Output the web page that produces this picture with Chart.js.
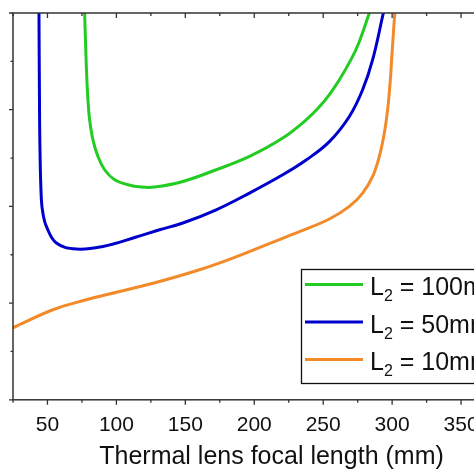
<!DOCTYPE html>
<html>
<head>
<meta charset="utf-8">
<script src="https://cdn.jsdelivr.net/npm/chart.js@4.4.1/dist/chart.umd.min.js"></script>
<style>
  html, body { margin: 0; padding: 0; background: #fff; overflow: hidden; }
  #wrap { width: 474px; height: 474px; overflow: hidden; }
</style>
</head>
<body>
<div id="wrap"><canvas id="lensChart" width="548" height="474"></canvas></div>
<script>
// Curve samples (x = thermal lens focal length in mm)
const greenX = [76.96, 78.19, 79.35, 80.58, 82.97, 86.59, 91.45, 98.69, 108.33, 118.04, 127.68, 148.19, 172.39, 196.52, 220.65, 237.61, 247.25, 254.49, 261.74, 270.22, 275.51, 283.47];
const greenY = [4.0, 3.448, 3.103, 2.896, 2.689, 2.517, 2.379, 2.276, 2.224, 2.200, 2.200, 2.258, 2.379, 2.517, 2.707, 2.895, 3.03, 3.157, 3.31, 3.52, 3.68, 4.0];

const blueX = [43.84, 44.2, 44.57, 45.58, 46.88, 49.2, 56.45, 70.94, 90.22, 114.42, 131.31, 148.19, 172.39, 196.52, 220.65, 237.61, 254.49, 268.98, 278.62, 285.87, 293.62];
const blueY = [4.0, 3.103, 2.586, 2.069, 1.914, 1.793, 1.621, 1.559, 1.586, 1.683, 1.758, 1.828, 1.965, 2.138, 2.327, 2.48, 2.67, 2.93, 3.207, 3.517, 4.0];

const orangeX = [25.0, 53.99, 78.19, 102.32, 131.31, 160.29, 184.42, 208.62, 232.76, 254.49, 268.98, 278.62, 285.87, 290.72, 294.35, 296.74, 298.7, 299.64, 300.72, 301.9];
const orangeY = [0.745, 0.931, 1.034, 1.12, 1.224, 1.345, 1.466, 1.603, 1.738, 1.87, 2.0, 2.138, 2.31, 2.517, 2.759, 3.0, 3.31, 3.517, 3.75, 4.0];

const seriesLabels = ["100mm", "50mm", "10mm"];
const seriesColors = ["#22cc22", "#0000cc", "#f28a2a"];
const xTickLabels = ["50", "100", "150", "200", "250", "300", "350"];

const FONT = "'Liberation Sans', Arial, sans-serif";

function toPoints(xs, ys) {
  return xs.map((v, i) => ({ x: v, y: ys[i] }));
}

// box around the plot plus the little tick marks (Origin style)
const framePlugin = {
  id: "frame",
  afterDraw(chart) {
    const { ctx, chartArea: a, scales: { x, y } } = chart;
    ctx.save();
    ctx.strokeStyle = "#333";
    ctx.lineWidth = 1.5;
    ctx.strokeRect(a.left, a.top, a.right - a.left, a.bottom - a.top);
    ctx.lineWidth = 1.3;
    ctx.beginPath();
    x.ticks.forEach(t => {
      const px = x.getPixelForValue(t.value);
      const len = t.value % 50 === 0 ? 5 : 3;
      ctx.moveTo(px, a.bottom);
      ctx.lineTo(px, a.bottom + len);
      ctx.moveTo(px, a.top);
      ctx.lineTo(px, a.top + len);
    });
    y.ticks.forEach(t => {
      const py = y.getPixelForValue(t.value);
      const len = Number.isInteger(t.value) ? 4 : 2.5;
      ctx.moveTo(a.left - len, py);
      ctx.lineTo(a.left, py);
    });
    ctx.stroke();
    ctx.restore();
  }
};

// legend box with subscript L2
const legendPlugin = {
  id: "boxLegend",
  afterDraw(chart) {
    const ctx = chart.ctx;
    const left = 301.5, top = 269.5, bottom = 383.5;
    const rowY = [284.5, 322, 359.5];
    ctx.save();
    ctx.font = "25px " + FONT;
    const lWidth = ctx.measureText("L").width;
    ctx.font = "16px " + FONT;
    const subWidth = ctx.measureText("2").width;
    ctx.font = "25px " + FONT;
    let maxW = 0;
    seriesLabels.forEach(s => {
      maxW = Math.max(maxW, ctx.measureText(" = " + s).width);
    });
    const textX = 370;
    const right = textX + lWidth + subWidth + maxW + 8;
    ctx.fillStyle = "#fff";
    ctx.fillRect(left, top, right - left, bottom - top);
    ctx.strokeStyle = "#111";
    ctx.lineWidth = 1.3;
    ctx.strokeRect(left, top, right - left, bottom - top);

    seriesLabels.forEach((s, i) => {
      const yy = rowY[i];
      ctx.strokeStyle = seriesColors[i];
      ctx.lineWidth = 3;
      ctx.beginPath();
      ctx.moveTo(305, yy);
      ctx.lineTo(363, yy);
      ctx.stroke();
      ctx.fillStyle = "#111";
      ctx.textBaseline = "alphabetic";
      ctx.font = "25px " + FONT;
      ctx.fillText("L", textX, yy + 10.5);
      ctx.font = "16px " + FONT;
      ctx.fillText("2", textX + lWidth, yy + 16.5);
      ctx.font = "25px " + FONT;
      ctx.fillText(" = " + s, textX + lWidth + subWidth, yy + 10.5);
    });
    ctx.restore();
  }
};

const ctx = document.getElementById("lensChart").getContext("2d");

new Chart(ctx, {
  type: "scatter",
  data: {
    datasets: [
      { label: "L2 = " + seriesLabels[0], data: toPoints(greenX, greenY), borderColor: seriesColors[0] },
      { label: "L2 = " + seriesLabels[1], data: toPoints(blueX, blueY), borderColor: seriesColors[1] },
      { label: "L2 = " + seriesLabels[2], data: toPoints(orangeX, orangeY), borderColor: seriesColors[2] }
    ].map(d => Object.assign(d, {
      showLine: true,
      pointRadius: 0,
      borderWidth: 3,
      tension: 0.4,
      borderCapStyle: "round",
      borderJoinStyle: "round",
      fill: false
    }))
  },
  options: {
    responsive: false,
    animation: false,
    layout: { padding: { left: 13, top: 13, right: 18, bottom: 0 } },
    plugins: {
      legend: { display: false },
      tooltip: { enabled: false }
    },
    scales: {
      x: {
        type: "linear",
        min: 25,
        max: 400,
        grid: { display: false, drawTicks: false },
        border: { display: false },
        ticks: {
          stepSize: 25,
          autoSkip: false,
          maxRotation: 0,
          padding: 13,
          color: "#111",
          font: { family: FONT, size: 21 },
          callback: v => (xTickLabels.includes(String(v)) ? String(v) : "")
        },
        title: {
          display: true,
          text: "Thermal lens focal length (mm)",
          color: "#111",
          font: { family: FONT, size: 25 },
          padding: { top: -9, bottom: 2 }
        }
      },
      y: {
        min: 0,
        max: 4,
        grid: { display: false, drawTicks: false },
        border: { display: false },
        ticks: { stepSize: 0.5, display: false }
      }
    }
  },
  plugins: [framePlugin, legendPlugin]
});
</script>
</body>
</html>
